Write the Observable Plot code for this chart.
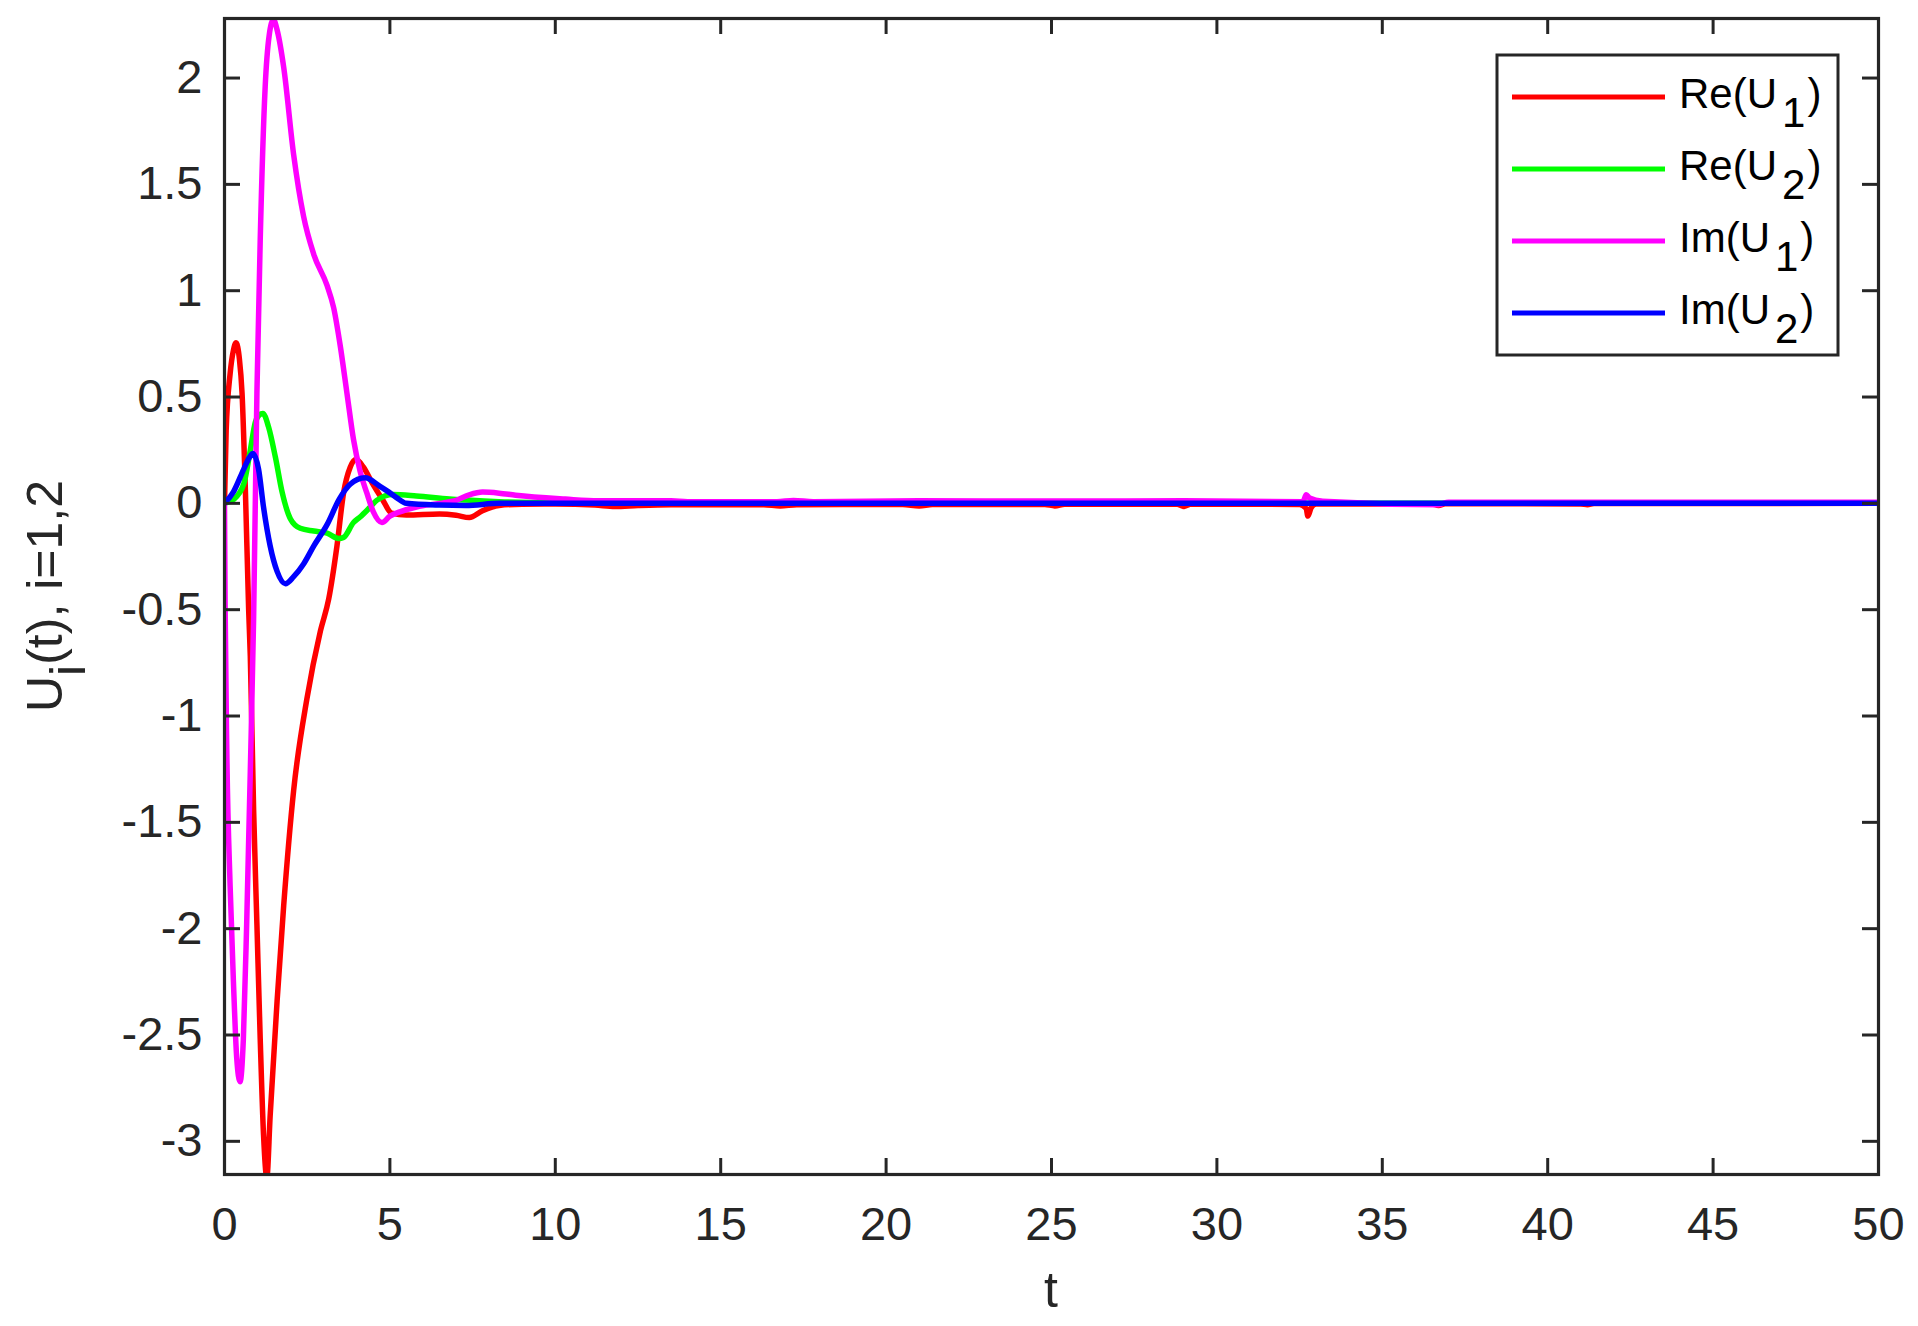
<!DOCTYPE html>
<html>
<head>
<meta charset="utf-8">
<script src="https://cdn.jsdelivr.net/npm/d3@7"></script>
<script src="https://cdn.jsdelivr.net/npm/@observablehq/plot@0.6"></script>
<style>
  html, body { margin: 0; padding: 0; background: #fff; }
  svg { display: block; }
</style>
</head>
<body>
<div id="chart"></div>
<script>
// ---- data (t, value) ----
const seriesNames = ["Re(U1)", "Re(U2)", "Im(U1)", "Im(U2)"];
const seriesColors = ["#ff0000", "#00ff00", "#ff00ff", "#0000ff"];
const legendMain = ["Re(U", "Re(U", "Im(U", "Im(U"];
const legendSub = ["1", "2", "1", "2"];

const reU1 = [[0,0],[0.05,0.34],[0.17,0.61],[0.27,0.72],[0.35,0.755],[0.45,0.68],[0.53,0.52],[0.63,0.07],[0.73,-0.5],[0.78,-0.72],[0.88,-1.44],[0.98,-1.98],[1.08,-2.52],[1.18,-2.97],[1.28,-3.17],[1.38,-2.88],[1.59,-2.34],[1.79,-1.89],[2.09,-1.35],[2.49,-0.92],[2.9,-0.6],[3.15,-0.45],[3.4,-0.2],[3.6,0.05],[3.8,0.17],[3.98,0.206],[4.2,0.17],[4.45,0.1],[4.78,0.017],[5.05,-0.046],[5.5,-0.055],[6.5,-0.05],[7.0,-0.056],[7.4,-0.067],[7.8,-0.035],[8.3,-0.01],[9,-0.004],[10,-0.003],[11.2,-0.008],[11.8,-0.015],[12.5,-0.01],[13.5,-0.006],[16.3,-0.006],[16.8,-0.012],[17.3,-0.006],[20.5,-0.005],[21,-0.012],[21.4,-0.005],[24.8,-0.005],[25.1,-0.012],[25.4,-0.004],[28.8,-0.004],[29.0,-0.015],[29.2,-0.004],[32.5,-0.005],[32.7,-0.025],[32.75,-0.06],[32.85,-0.02],[33,-0.003],[36.5,-0.003],[36.7,-0.01],[36.9,-0.002],[41,-0.003],[41.2,-0.006],[41.4,-0.001],[50,0]];

const reU2 = [[0,0],[0.27,0.018],[0.58,0.09],[0.78,0.25],[0.93,0.38],[1.05,0.415],[1.16,0.423],[1.33,0.36],[1.54,0.216],[1.74,0.054],[1.99,-0.072],[2.29,-0.117],[2.7,-0.13],[3.1,-0.14],[3.45,-0.165],[3.6,-0.16],[3.9,-0.09],[4.1,-0.064],[4.4,-0.018],[4.6,0.014],[5.1,0.042],[5.8,0.035],[6.8,0.02],[8.3,0.008],[10,0.003],[20,0.001],[50,0]];

const imU1 = [[0,0],[0.02,-0.5],[0.07,-1.17],[0.17,-1.8],[0.27,-2.25],[0.37,-2.61],[0.47,-2.72],[0.57,-2.52],[0.67,-1.98],[0.78,-1.26],[0.88,-0.54],[0.98,0.52],[1.08,1.24],[1.23,1.96],[1.35,2.2],[1.48,2.275],[1.6,2.22],[1.79,2.05],[2.09,1.64],[2.39,1.35],[2.7,1.17],[3.1,1.025],[3.3,0.92],[3.5,0.74],[3.7,0.52],[3.9,0.3],[4.1,0.15],[4.3,0.05],[4.5,-0.04],[4.76,-0.09],[5.0,-0.06],[5.3,-0.04],[5.8,-0.017],[6.5,0.0],[7.0,0.014],[7.4,0.04],[7.8,0.053],[8.3,0.048],[8.8,0.038],[10.3,0.02],[11.3,0.012],[13.5,0.012],[14,0.008],[16.7,0.008],[17.2,0.014],[17.8,0.008],[21,0.012],[25,0.011],[29,0.012],[32.6,0.008],[32.7,0.04],[32.8,0.025],[33.2,0.01],[36.7,-0.006],[37,0.005],[50,0.005]];

const imU2 = [[0,0],[0.27,0.054],[0.58,0.16],[0.75,0.215],[0.86,0.234],[1.03,0.16],[1.18,-0.018],[1.38,-0.2],[1.59,-0.32],[1.84,-0.378],[2.09,-0.345],[2.39,-0.285],[2.7,-0.2],[3.1,-0.1],[3.47,0.02],[3.8,0.09],[4.25,0.12],[4.7,0.08],[4.9,0.06],[5.2,0.027],[5.5,0.0],[6.5,-0.008],[7.3,-0.01],[8.3,0],[50,0]];

const xTicks = [0,5,10,15,20,25,30,35,40,45,50];
const yTicks = [-3,-2.5,-2,-1.5,-1,-0.5,0,0.5,1,1.5,2];
const xDomain = [0, 50];
const yDomain = [-3.156, 2.28];

// ---- layout ----
const W = 1918, H = 1326;
const mL = 224, mR = 40, mT = 18, mB = 152;
const pW = W - mL - mR, pH = H - mT - mB;
const ink = "#262626";
const font = "'Liberation Sans', Arial, Helvetica, sans-serif";
const tickLen = 16;

const allSeries = [reU1, reU2, imU1, imU2];
const table = allSeries.flatMap((s, i) => s.map(([t, v]) => ({t, v, s: seriesNames[i]})));

const lineMarks = seriesNames.map((name, i) =>
  Plot.line(table.filter(d => d.s === name), {
    x: "t", y: "v", stroke: seriesColors[i], strokeWidth: 5.5,
    curve: "monotone-x", clip: true
  })
);

const svg = Plot.plot({
  width: W, height: H,
  marginLeft: mL, marginRight: mR, marginTop: mT, marginBottom: mB,
  x: {domain: xDomain},
  y: {domain: yDomain},
  style: {fontFamily: font, color: ink, background: "#fff", overflow: "visible"},
  marks: [
    ...lineMarks,
    Plot.tickX(xTicks, {x: d => d, insetTop: pH - tickLen, stroke: ink, strokeWidth: 3}),
    Plot.tickX(xTicks, {x: d => d, insetBottom: pH - tickLen, stroke: ink, strokeWidth: 3}),
    Plot.tickY(yTicks, {y: d => d, insetRight: pW - tickLen, stroke: ink, strokeWidth: 3}),
    Plot.tickY(yTicks, {y: d => d, insetLeft: pW - tickLen, stroke: ink, strokeWidth: 3}),
    Plot.frame({stroke: ink, strokeWidth: 3.2}),
    Plot.axisX({ticks: xTicks, tickSize: 0, tickPadding: 32, fontSize: 47, label: null,
      tickFormat: d => String(d), fill: ink}),
    Plot.axisY({ticks: yTicks, tickSize: 0, tickPadding: 22, fontSize: 47, label: null,
      tickFormat: d => String(d), fill: ink})
  ]
});

const s = d3.select(svg);

// x label
s.append("text")
  .attr("x", mL + pW / 2).attr("y", 1307)
  .attr("text-anchor", "middle")
  .attr("font-family", font).attr("font-size", 50).attr("fill", ink)
  .text("t");

// y label with subscript
const yl = s.append("text")
  .attr("transform", `translate(62, ${mT + pH / 2}) rotate(-90)`)
  .attr("text-anchor", "middle")
  .attr("font-family", font).attr("font-size", 50).attr("fill", ink);
yl.append("tspan").text("U");
yl.append("tspan").attr("dy", "0.45em").text("i");
yl.append("tspan").attr("dy", "-0.45em").text("(t), i=1,2");

// legend
const lg = s.append("g").attr("text-anchor", "start");
lg.append("rect")
  .attr("x", 1497).attr("y", 55).attr("width", 341).attr("height", 300)
  .attr("fill", "#fff").attr("stroke", ink).attr("stroke-width", 3);
seriesNames.forEach((name, i) => {
  const yy = 97 + i * 72;
  lg.append("line")
    .attr("x1", 1512).attr("x2", 1665).attr("y1", yy).attr("y2", yy)
    .attr("stroke", seriesColors[i]).attr("stroke-width", 5);
  const tx = lg.append("text")
    .attr("x", 1679).attr("y", yy + 11)
    .attr("text-anchor", "start")
    .attr("font-family", font).attr("font-size", 42).attr("fill", "#000");
  tx.append("tspan").text(legendMain[i]);
  tx.append("tspan").attr("dx", 5).attr("dy", "0.45em").text(legendSub[i]);
  tx.append("tspan").attr("dx", 2).attr("dy", "-0.45em").text(")");
});

document.getElementById("chart").appendChild(svg);
</script>
</body>
</html>
